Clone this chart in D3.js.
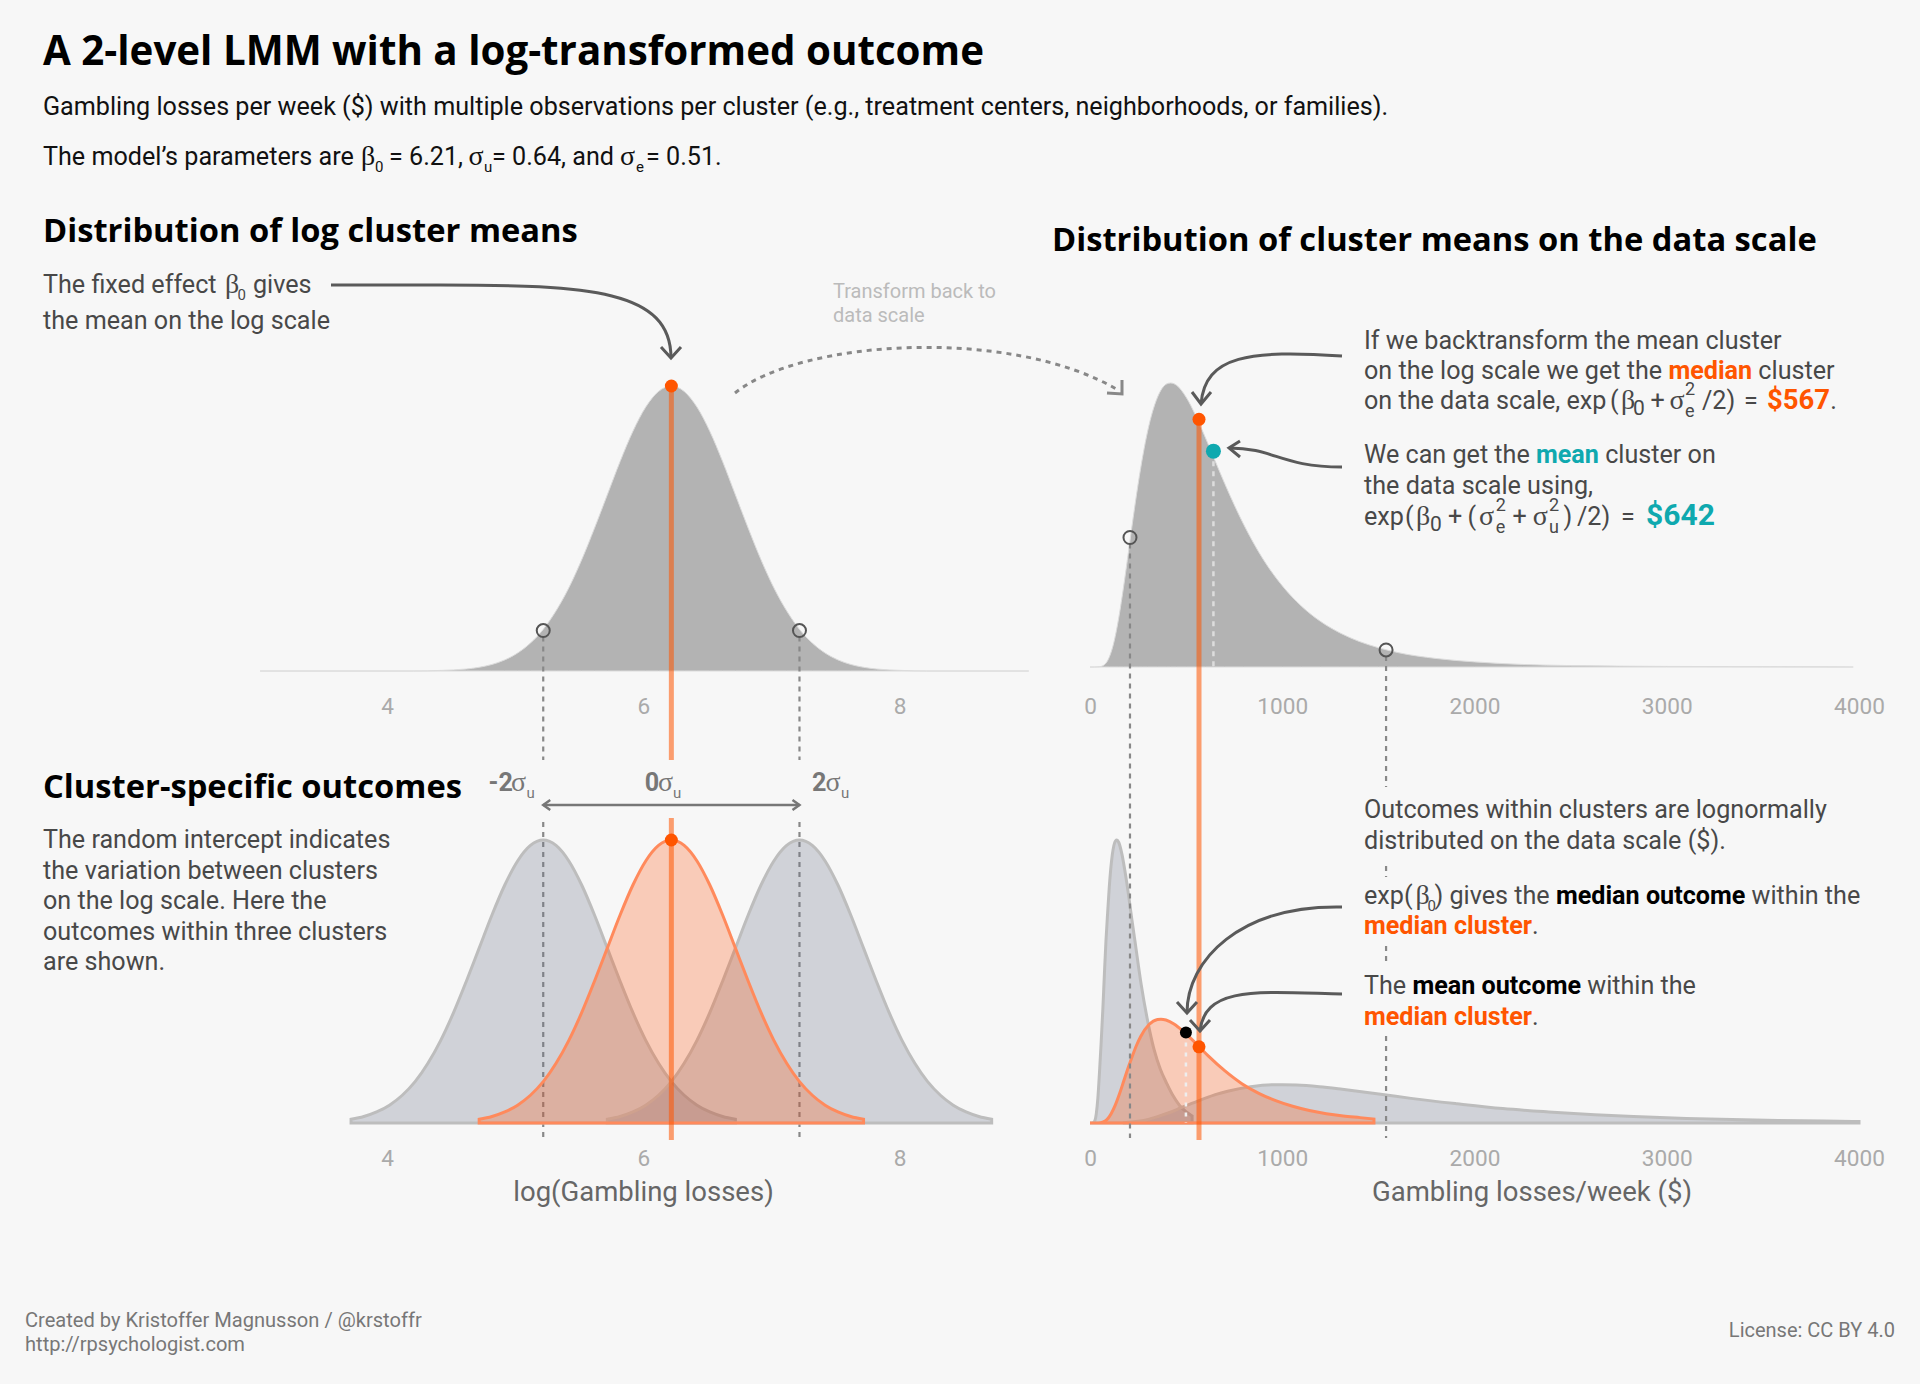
<!DOCTYPE html>
<html>
<head>
<meta charset="utf-8">
<title>A 2-level LMM with a log-transformed outcome</title>
<script src="https://cdn.jsdelivr.net/npm/d3@7"></script>
<style>
    body { margin: 0; background: #f7f7f7; }
    svg { display: block; }
    text { font-family: Roboto, sans-serif; white-space: pre; }
    .head { font-family: "Open Sans", sans-serif; font-weight: 700; fill: #000; }
    .body { font-size: 25.15px; fill: #484848; }
    .tick text { font-family: Roboto, sans-serif; font-size: 22.6px; fill: #aaa; }
</style>
</head>
<body>
<svg id="chart" width="1920" height="1384"></svg>
<script>
// values
const logTicks = [4, 6, 8];
const dataTicks = [0, 1000, 2000, 3000, 4000];

// distribution of log cluster means (relative height)
const logMeansX = [3, 4.2, 4.41, 4.61, 4.71, 4.81, 4.91, 5.01, 5.11, 5.21, 5.31, 5.41, 5.51, 5.61, 5.71, 5.81, 5.91, 6.01, 6.11, 6.21, 6.31, 6.41, 6.51, 6.61, 6.71, 6.81, 6.91, 7.01, 7.11, 7.21, 7.31, 7.41, 7.51, 7.61, 7.71, 7.81, 8.01, 8.2, 9];
const logMeansY = [0, 0, 0.002, 0.007, 0.013, 0.023, 0.039, 0.063, 0.098, 0.146, 0.211, 0.292, 0.39, 0.501, 0.618, 0.735, 0.841, 0.926, 0.981, 1, 0.981, 0.926, 0.841, 0.735, 0.618, 0.501, 0.39, 0.292, 0.211, 0.146, 0.098, 0.063, 0.039, 0.023, 0.013, 0.007, 0.002, 0, 0];

// distribution of cluster means on the data scale
const dataMeansX = [0, 25, 50, 75, 100, 125, 150, 175, 200, 225, 250, 275, 300, 350, 400, 420, 450, 500, 550, 600, 650, 700, 800, 900, 1000, 1100, 1200, 1300, 1400, 1500, 1600, 1800, 2000, 2250, 2500, 3000, 3500, 3970];
const dataMeansY = [0, 0, 0.001, 0.008, 0.034, 0.089, 0.175, 0.284, 0.405, 0.528, 0.643, 0.745, 0.831, 0.948, 0.997, 1, 0.992, 0.95, 0.885, 0.808, 0.727, 0.647, 0.501, 0.38, 0.286, 0.214, 0.16, 0.12, 0.09, 0.068, 0.051, 0.03, 0.018, 0.009, 0.005, 0.002, 0.001, 0];

// within cluster outcomes, log scale
const clusterCenters = [5.21, 6.21, 7.21];
const clusterOffsets = [-1.5, -1.4, -1.3, -1.2, -1.1, -1, -0.9, -0.8, -0.7, -0.6, -0.5, -0.4, -0.3, -0.2, -0.1, 0, 0.1, 0.2, 0.3, 0.4, 0.5, 0.6, 0.7, 0.8, 0.9, 1, 1.1, 1.2, 1.3, 1.4, 1.5];
const clusterY = [0.013, 0.023, 0.039, 0.063, 0.098, 0.146, 0.211, 0.292, 0.39, 0.501, 0.618, 0.735, 0.841, 0.926, 0.981, 1, 0.981, 0.926, 0.841, 0.735, 0.618, 0.501, 0.39, 0.292, 0.211, 0.146, 0.098, 0.063, 0.039, 0.023, 0.013];

// within cluster outcomes, data scale
const lowClusterX = [0, 8, 16, 25, 33, 41, 49, 58, 67, 75, 83, 92, 100, 116, 133, 140, 149, 166, 183, 200, 216, 233, 266, 300, 333, 366, 399, 433, 466, 499, 531];
const lowClusterY = [0, 0, 0.001, 0.008, 0.034, 0.089, 0.175, 0.284, 0.405, 0.528, 0.643, 0.745, 0.831, 0.948, 0.997, 1, 0.992, 0.95, 0.885, 0.808, 0.727, 0.647, 0.49, 0.36, 0.26, 0.19, 0.14, 0.095, 0.062, 0.04, 0.025];
const midClusterX = [0, 22, 44, 66, 88, 110, 132, 154, 176, 198, 220, 241, 263, 307, 351, 369, 395, 439, 483, 527, 571, 615, 702, 790, 878, 966, 1054, 1141, 1229, 1317, 1405, 1477];
const midClusterY = [0, 0, 0, 0.003, 0.012, 0.033, 0.064, 0.104, 0.149, 0.194, 0.236, 0.273, 0.305, 0.348, 0.366, 0.367, 0.364, 0.349, 0.325, 0.297, 0.267, 0.237, 0.184, 0.139, 0.105, 0.079, 0.059, 0.044, 0.033, 0.025, 0.019, 0.014];
const highClusterX = [179, 239, 298, 358, 418, 477, 537, 597, 656, 716, 835, 954, 1002, 1074, 1193, 1312, 1432, 1551, 1670, 1909, 2147, 2386, 2625, 2863, 3102, 3340, 3579, 3818, 4000];
const highClusterY = [0.001, 0.005, 0.012, 0.024, 0.038, 0.055, 0.071, 0.087, 0.101, 0.112, 0.128, 0.135, 0.135, 0.134, 0.128, 0.119, 0.109, 0.098, 0.087, 0.068, 0.051, 0.039, 0.029, 0.022, 0.016, 0.012, 0.009, 0.007, 0.005];

// marked points
const logMeanValue = 6.21;
const logSideValues = [5.21, 7.21];
const logSideHeight = 0.142;
const sideClusters = [208, 1540];
const sideClusterHeights = [0.456, 0.06];
const medianCluster = 567, medianClusterHeight = 0.872;
const meanCluster = 642, meanClusterHeight = 0.76;
const medianOutcomeHeight = 0.269;
const meanOutcome = 499, meanOutcomeHeight = 0.32;

const ORANGE = '#ff5500', TEAL = '#0fa9af';

const svg = d3.select('#chart');
svg.append('rect').attr('width', 1920).attr('height', 1384).attr('fill', '#f7f7f7');

const xLog = d3.scaleLinear().domain([4, 8]).range([388.2, 900.7]);
const xData = d3.scaleLinear().domain([0, 4000]).range([1090, 1859]);
const yLogTop = d3.scaleLinear().domain([0, 1]).range([671, 386]);
const yDataTop = d3.scaleLinear().domain([0, 1]).range([667, 383]);
const yBottom = d3.scaleLinear().domain([0, 1]).range([1123, 840]);

const areaOf = (x, y, xs, ys) => {
    const area = d3.area()
        .x((d, i) => x(xs[i]))
        .y0(y(0))
        .y1((d, i) => y(ys[i]))
        .curve(d3.curveMonotoneX);
    return area(xs);
};

const drawAxis = (scale, ticks, y, dx) => {
    const g = svg.append('g')
        .attr('transform', 'translate(' + (dx || 0) + ',' + y + ')')
        .call(d3.axisBottom(scale).tickValues(ticks).tickSize(0).tickPadding(0).tickFormat(d3.format('d')));
    g.select('.domain').remove();
};

const vline = (x, y1, y2, stroke, width, dash, opacity) => {
    svg.append('line')
        .attr('x1', x).attr('x2', x)
        .attr('y1', y1).attr('y2', y2)
        .attr('stroke', stroke)
        .attr('stroke-width', width)
        .attr('stroke-dasharray', dash || null)
        .attr('opacity', opacity === undefined ? 1 : opacity);
};

const dot = (x, y, r, fill) => {
    svg.append('circle').attr('cx', x).attr('cy', y).attr('r', r).attr('fill', fill);
};
const ring = (x, y) => {
    svg.append('circle').attr('cx', x).attr('cy', y).attr('r', 6.5)
        .attr('fill', 'none').attr('stroke', '#555').attr('stroke-width', 2);
};

// curved annotation arrow, head is a chevron given by the two arm ends
const arrow = (d, tip, arm1, arm2, stroke, width, dash) => {
    svg.append('path').attr('d', d)
        .attr('fill', 'none').attr('stroke', stroke).attr('stroke-width', width)
        .attr('stroke-dasharray', dash || null);
    svg.append('path')
        .attr('d', 'M' + arm1 + 'L' + tip + 'L' + arm2)
        .attr('fill', 'none').attr('stroke', stroke).attr('stroke-width', width);
};

// text made of styled runs, a run is a string or {t, x, w, fill, g, size, up}
const rich = (x, y, runs, cls) => {
    const text = svg.append('text').attr('class', cls || 'body').attr('x', x).attr('y', y);
    let shift = 0;
    runs.forEach((r) => {
        if (typeof r === 'string') r = { t: r };
        const span = text.append('tspan').text(r.t);
        const up = r.up || 0;
        if (up !== shift) span.attr('dy', shift - up);
        shift = up;
        if (r.x) span.attr('x', r.x);
        if (r.w) span.attr('font-weight', r.w);
        if (r.fill) span.attr('fill', r.fill);
        if (r.size) span.attr('font-size', r.size);
        if (r.g) span.attr('font-family', '"Liberation Serif", serif');
    });
    return text;
};
const at = (x, t) => ({ t: t, x: x });
const greek = (x, t) => ({ t: t, x: x, g: 1, size: 28 });
const sub = (x, t) => ({ t: t, x: x, size: 15, up: -7 });
const sup2 = (x, t) => ({ t: t, x: x, size: 18, up: 14 });
const sube = (x, t) => ({ t: t, x: x, size: 18, up: -8 });
const med = (t) => ({ t: t, w: 700, fill: ORANGE });
const blk = (t) => ({ t: t, w: 700, fill: '#000' });

// titles
rich(43, 65, ['A 2-level LMM with a log-transformed outcome'], 'head').attr('font-size', 40.3);
rich(43, 115, ['Gambling losses per week ($) with multiple observations per cluster (e.g., treatment centers, neighborhoods, or families).']).style('fill', '#111');
rich(43, 165, ['The model’s parameters are ', greek(361, 'β'), sub(375, '0'), at(389, '= 6.21, '), greek(468.5, 'σ'), sub(484, 'u'), at(492, '= 0.64, and '), greek(620, 'σ'), sub(636, 'e'), at(646, '= 0.51.')]).style('fill', '#111');
rich(43, 242, ['Distribution of log cluster means'], 'head').attr('font-size', 32.7);
rich(1052, 251, ['Distribution of cluster means on the data scale'], 'head').attr('font-size', 32.7);
rich(43, 798, ['Cluster-specific outcomes'], 'head').attr('font-size', 32.7);

// top left panel
svg.append('path').attr('d', areaOf(xLog, yLogTop, logMeansX, logMeansY))
    .attr('fill', '#b3b3b3').attr('stroke', '#dcdcdc').attr('stroke-width', 1);
logSideValues.forEach((v) => {
    vline(xLog(v), yLogTop(logSideHeight) + 6, 760, '#888', 2.2, '5 5');
    vline(xLog(v), 822, 1138, '#888', 2.2, '5 5');
});
drawAxis(xLog, logTicks, 698, -1.2);

// top right panel
svg.append('path').attr('d', areaOf(xData, yDataTop, dataMeansX, dataMeansY))
    .attr('fill', '#b3b3b3').attr('stroke', '#dcdcdc').attr('stroke-width', 1);
drawAxis(xData, dataTicks, 698);

// bottom left panel
clusterCenters.forEach((c, k) => {
    if (k === 1) return;
    const xs = clusterOffsets.map((o) => c + o);
    svg.append('path').attr('d', areaOf(xLog, yBottom, xs, clusterY))
        .attr('fill', '#6b7289').attr('fill-opacity', 0.28)
        .attr('stroke', '#bdbdbd').attr('stroke-width', 3);
});
svg.append('path').attr('d', areaOf(xLog, yBottom, clusterOffsets.map((o) => clusterCenters[1] + o), clusterY))
    .attr('fill', '#ff5510').attr('fill-opacity', 0.27)
    .attr('stroke', '#ff8a5c').attr('stroke-width', 3);
drawAxis(xLog, logTicks, 1150, -1.2);

// bottom right panel
[[lowClusterX, lowClusterY], [highClusterX, highClusterY]].forEach((c) => {
    svg.append('path').attr('d', areaOf(xData, yBottom, c[0], c[1]))
        .attr('fill', '#6b7289').attr('fill-opacity', 0.28)
        .attr('stroke', '#bdbdbd').attr('stroke-width', 3);
});
svg.append('path').attr('d', areaOf(xData, yBottom, midClusterX, midClusterY))
    .attr('fill', '#ff5510').attr('fill-opacity', 0.27)
    .attr('stroke', '#ff8a5c').attr('stroke-width', 3);
drawAxis(xData, dataTicks, 1150);

// dashed guides on the data scale
sideClusters.forEach((v, i) => {
    vline(xData(v), yDataTop(sideClusterHeights[i]) + 6, 1138, '#888', 2.2, '5 5');
});
vline(xData(meanCluster), yDataTop(meanClusterHeight), 667, '#ddd', 2.5, '5 5');
vline(xData(meanOutcome), yBottom(meanOutcomeHeight), 1123, '#eee', 2.5, '4 6');
// text blocks cut the right guide
[[787, 862], [877, 945], [965, 1035]].forEach((b) => {
    svg.append('rect').attr('x', xData(sideClusters[1]) - 5).attr('y', b[0])
        .attr('width', 10).attr('height', b[1] - b[0]).attr('fill', '#f7f7f7');
});

// median lines
[[yLogTop(1), 760], [818, 1140]].forEach((s) => {
    vline(xLog(logMeanValue), s[0], s[1], ORANGE, 5, null, 0.55);
});
vline(xData(medianCluster), yDataTop(medianClusterHeight), 1140, ORANGE, 5, null, 0.55);

// points
logSideValues.forEach((v) => ring(xLog(v), yLogTop(logSideHeight)));
sideClusters.forEach((v, i) => ring(xData(v), yDataTop(sideClusterHeights[i])));
dot(xLog(logMeanValue), yLogTop(1), 6.5, ORANGE);
dot(xLog(logMeanValue), yBottom(1), 6.5, ORANGE);
dot(xData(medianCluster), yDataTop(medianClusterHeight), 6.5, ORANGE);
dot(xData(meanCluster), yDataTop(meanClusterHeight), 7.5, TEAL);
dot(xData(medianCluster), yBottom(medianOutcomeHeight), 6.5, ORANGE);
dot(xData(meanOutcome), yBottom(meanOutcomeHeight), 6, '#000');

// arrows
arrow('M331 285L440 285C590 285 671 290 671 358', [671, 358], [661, 347], [681, 347], '#5a5a5a', 3);
arrow('M735 393C800 340 1010 326 1118 390', [1122, 394], [1107, 393], [1122, 380], '#888', 3, '5 5');
arrow('M1342 356C1250 350 1205 355 1201 404', [1201, 404], [1192, 392], [1211, 392], '#5a5a5a', 3);
arrow('M1342 467C1280 467 1275 448 1229 448', [1229, 448], [1240, 441], [1240, 457], '#5a5a5a', 3);
arrow('M1342 907C1240 905 1187 960 1187 1013', [1187, 1013], [1177, 1002], [1197, 1002], '#5a5a5a', 3);
arrow('M1342 994C1260 992 1205 985 1200 1031', [1200, 1031], [1190, 1020], [1210, 1020], '#5a5a5a', 3);
const spanY = 805;
svg.append('path')
    .attr('d', 'M' + xLog(logSideValues[0]) + ' ' + spanY + 'L' + xLog(logSideValues[1]) + ' ' + spanY)
    .attr('stroke', '#777').attr('stroke-width', 2.5);
arrow('', [xLog(logSideValues[0]), spanY], [xLog(logSideValues[0]) + 7, spanY - 5], [xLog(logSideValues[0]) + 7, spanY + 5], '#777', 2.5);
arrow('', [xLog(logSideValues[1]), spanY], [xLog(logSideValues[1]) - 7, spanY - 5], [xLog(logSideValues[1]) - 7, spanY + 5], '#777', 2.5);

// sigma labels
[[488.5, '-2', 511, 526.4], [644.7, '0', 658, 673], [812, '2', 825.5, 841]].forEach((l) => {
    rich(l[0], 791, [{ t: l[1], w: 700 }, greek(l[2], 'σ'), sub(l[3], 'u')]).style('fill', '#777');
});

// left annotations
rich(43, 293, ['The fixed effect ', greek(225, 'β'), sub(237.6, '0'), at(253, 'gives')]);
rich(43, 329, ['the mean on the log scale']);
['The random intercept indicates', 'the variation between clusters', 'on the log scale. Here the', 'outcomes within three clusters', 'are shown.'].forEach((line, i) => {
    rich(43, 848 + i * 30.5, [line]);
});
rich(833, 297.5, ['Transform back to']).style('font-size', '20px').style('fill', '#bbb');
rich(833, 321.5, ['data scale']).style('font-size', '20px').style('fill', '#bbb');

// right annotations, formulas are spaced by hand like the typeset original
const msub = (x, t) => ({ t: t, x: x, size: 21, up: -6 });
rich(1364, 349, ['If we backtransform the mean cluster']);
rich(1364, 379, ['on the log scale we get the ', med('median'), ' cluster']);
rich(1364, 409, ['on the data scale, exp', at(1610, '('), greek(1621, 'β'), msub(1633, '0'), at(1650.6, '+'), greek(1669.6, 'σ'),
    sup2(1685, '2'), sube(1685, 'e'), at(1702, '/2)'), at(1744, '='),
    { t: '$567', x: 1767, w: 700, fill: ORANGE, size: 27.5 }, '.']);
rich(1364, 463, ['We can get the ', { t: 'mean', w: 700, fill: TEAL }, ' cluster on']);
rich(1364, 493.5, ['the data scale using,']);
rich(1364, 525, ['exp', at(1405, '('), greek(1416, 'β'), msub(1430, '0'), at(1448, '+'), at(1467.6, '('), greek(1479, 'σ'),
    sup2(1495.7, '2'), sube(1495.7, 'e'), at(1512.5, '+'), greek(1532.7, 'σ'),
    sup2(1549, '2'), sube(1549, 'u'), at(1563.6, ')'), at(1577, '/2)'), at(1621, '='),
    { t: '$642', x: 1646, w: 700, fill: TEAL, size: 30 }]);
rich(1364, 818, ['Outcomes within clusters are lognormally']);
rich(1364, 848.5, ['distributed on the data scale ($).']);
rich(1364, 904, ['exp(', greek(1415.5, 'β'), sub(1427.5, '0'), at(1434.6, ')'), at(1449.5, 'gives the '), blk('median outcome'), ' within the']);
rich(1364, 934, [med('median cluster'), '.']);
rich(1364, 994, ['The ', blk('mean outcome'), ' within the']);
rich(1364, 1025, [med('median cluster'), '.']);

// axis titles
rich(643.5, 1201, ['log(Gambling losses)']).attr('text-anchor', 'middle').style('font-size', '27.5px').style('fill', '#666');
rich(1532, 1201, ['Gambling losses/week ($)']).attr('text-anchor', 'middle').style('font-size', '27.5px').style('fill', '#666');

// footer
rich(25, 1327, ['Created by Kristoffer Magnusson / @krstoffr']).style('font-size', '20.1px').style('fill', '#777');
rich(25, 1351, ['http://rpsychologist.com']).style('font-size', '20.1px').style('fill', '#777');
rich(1895, 1337, ['License: CC BY 4.0']).attr('text-anchor', 'end').style('font-size', '20px').style('fill', '#777');
</script>
</body>
</html>
